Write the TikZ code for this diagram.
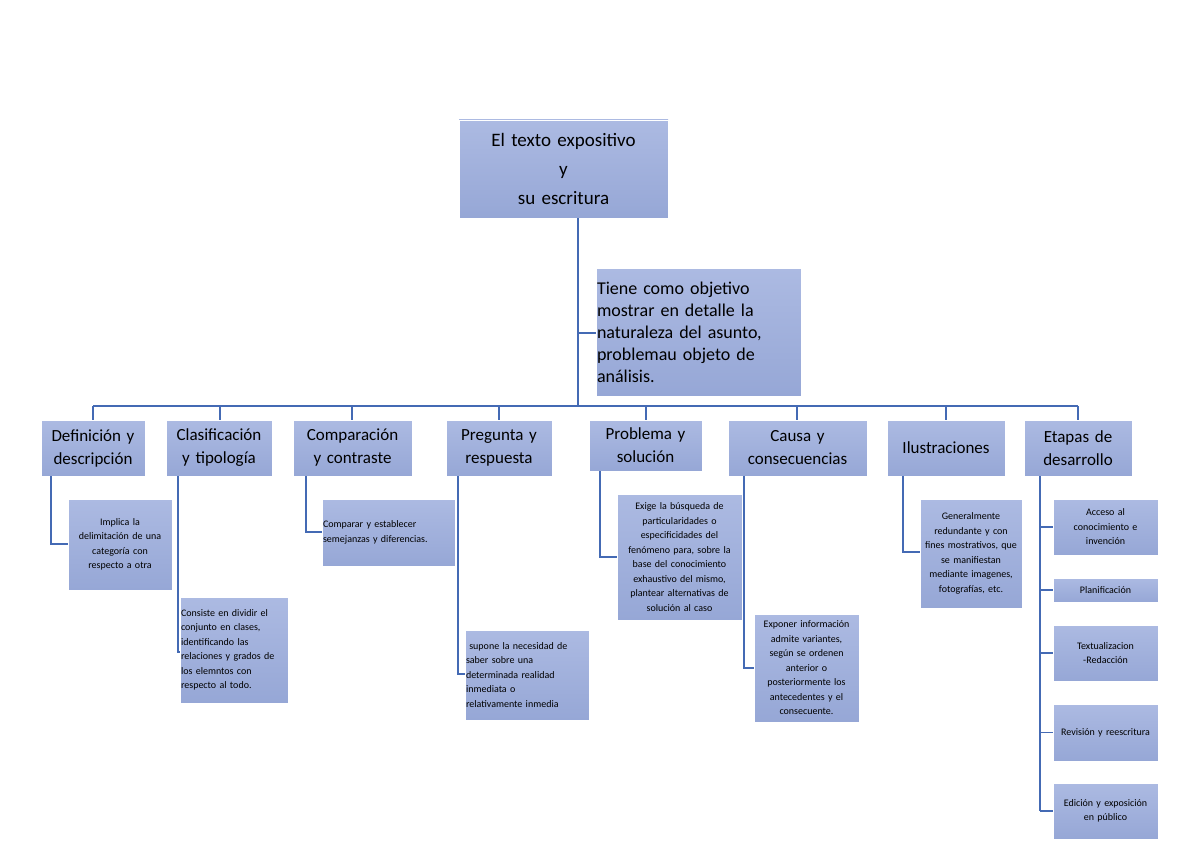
\documentclass[tikz,border=0pt]{standalone}
\usepackage{fontspec}
\setmainfont{Carlito}
\definecolor{bt}{RGB}{172,186,226}
\definecolor{bb}{RGB}{150,167,214}
\definecolor{ln}{RGB}{68,106,180}
\begin{document}
\begin{tikzpicture}[x=1pt,y=-1pt,
 bx/.style={draw=white,line width=0.8pt,top color=bt,bottom color=bb,inner sep=0pt,align=center},
 cn/.style={draw=ln,line width=1.6pt},
 tf/.style={font=\fontsize{19}{29}\selectfont},
 of/.style={font=\fontsize{18}{22}\selectfont},
 cf/.style={font=\fontsize{17}{23}\selectfont},
 sf/.style={font=\fontsize{10}{14.5}\selectfont}]
\useasboundingbox (0,0) rectangle (1200,848);
\newcommand{\bxat}[7]{\node[bx,minimum width=#4-#2,minimum height=#5-#3,text width=#4-#2-2,#7] (#1) at ({(#2+#4)/2},{(#3+#5)/2}) {#6};}
\bxat{t}{459}{120}{668}{218}{El texto expositivo\\y\\su escritura}{tf}
\bxat{o}{596}{268}{801}{396}{Tiene como objetivo\\mostrar en detalle la\\naturaleza del asunto,\\problemau objeto de\\análisis.}{of,align=left}
\draw[cn] (578,218) -- (578,406);
\draw[cn] (578,333) -- (o.west|-578,333);
\draw[cn] (93,406) -- (1078,406);
\foreach \x in {93,220,352,499,646,797,946,1078} \draw[cn] (\x,406) -- (\x,420);
\bxat{c1}{41}{420}{145}{476}{Definición y\\descripción}{cf}
\bxat{c2}{166}{420}{272}{476}{Clasificación\\y tipología}{cf}
\bxat{c3}{293}{420}{412}{476}{Comparación\\y contraste}{cf}
\bxat{c4}{446}{420}{552}{476}{Pregunta y\\respuesta}{cf}
\bxat{c5}{589}{420}{702}{471}{Problema y\\solución}{cf}
\bxat{c6}{728}{420}{867}{476}{Causa y\\consecuencias}{cf}
\bxat{c7}{887}{420}{1005}{476}{Ilustraciones}{cf}
\bxat{c8}{1024}{420}{1132}{476}{Etapas de\\desarrollo}{cf}
\bxat{s1}{68}{499}{172}{590}{Implica la\\delimitación de una\\categoría con\\respecto a otra}{sf}
\bxat{s2}{180}{597}{288}{703}{Consiste en dividir el\\conjunto en clases,\\identificando las\\relaciones y grados de\\los elemntos con\\respecto al todo.}{sf,align=left}
\bxat{s3}{322}{499}{455}{566}{Comparar y establecer\\semejanzas y diferencias.}{sf,align=left}
\bxat{s4}{465}{630}{589}{720}{\ supone la necesidad de\\saber sobre una\\determinada realidad\\inmediata o\\relativamente inmedia}{sf,align=left}
\bxat{s5}{617}{494}{742}{620}{Exige la búsqueda de\\particularidades o\\especificidades del\\fenómeno para, sobre la\\base del conocimiento\\exhaustivo del mismo,\\plantear alternativas de\\solución al caso}{sf}
\bxat{s6}{754}{614}{859}{722}{Exponer información\\admite variantes,\\según se ordenen\\anterior o\\posteriormente los\\antecedentes y el\\consecuente.}{sf}
\bxat{s7}{920}{499}{1022}{608}{Generalmente\\redundante y con\\fines mostrativos, que\\se manifiestan\\mediante imagenes,\\fotografías, etc.}{sf}
\bxat{e1}{1053}{499}{1158}{555}{Acceso al\\conocimiento e\\invención}{sf}
\bxat{e2}{1053}{578}{1158}{602}{Planificación}{sf}
\bxat{e3}{1053}{625}{1158}{681}{Textualizacion\\-Redacción}{sf}
\bxat{e4}{1053}{704}{1158}{761}{Revisión y reescritura}{sf}
\bxat{e5}{1053}{783}{1158}{839}{Edición y exposición\\en público}{sf}
\draw[cn] (51,476) |- (s1.west|-0,544);
\draw[cn] (178,476) |- (s2.west|-0,652);
\draw[cn] (306,476) |- (s3.west|-0,532);
\draw[cn] (458,476) |- (s4.west|-0,674);
\draw[cn] (600,471) |- (s5.west|-0,557);
\draw[cn] (744,476) |- (s6.west|-0,668);
\draw[cn] (903,476) |- (s7.west|-0,552);
\draw[cn] (1040,476) -- (1040,811);
\foreach \n in {e1,e2,e3,e4,e5} \draw[cn] (1040,0|-\n.west) -- (\n.west);
\end{tikzpicture}
\end{document}
